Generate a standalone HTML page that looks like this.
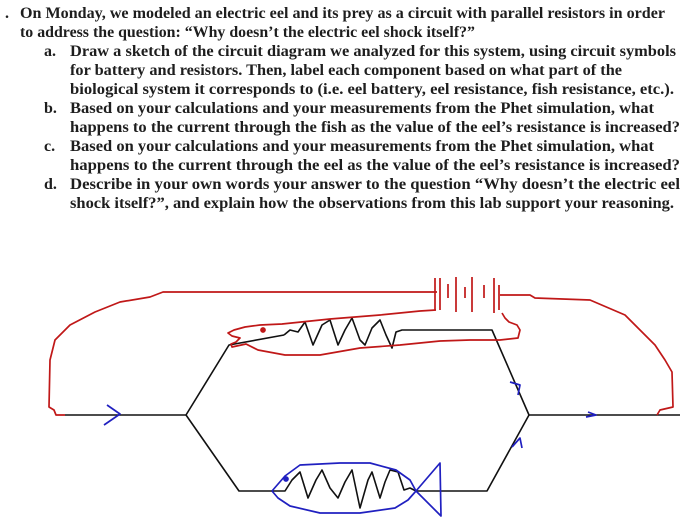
<!DOCTYPE html>
<html><head><meta charset="utf-8"><style>
html,body{margin:0;padding:0;background:#fff;}
svg{display:block;}
text{font-family:"Liberation Serif",serif;font-size:16px;font-weight:bold;fill:#1e1e1e;}
</style></head><body>
<svg width="683" height="523" viewBox="0 0 683 523" xmlns="http://www.w3.org/2000/svg">
<text x="5" y="18">.</text>
<text x="20" y="18" textLength="645" lengthAdjust="spacingAndGlyphs">On Monday, we modeled an electric eel and its prey as a circuit with parallel resistors in order</text>
<text x="20" y="37" textLength="455" lengthAdjust="spacingAndGlyphs">to address the question: “Why doesn’t the electric eel shock itself?”</text>
<text x="44" y="56">a.</text>
<text x="70" y="56" textLength="606" lengthAdjust="spacingAndGlyphs">Draw a sketch of the circuit diagram we analyzed for this system, using circuit symbols</text>
<text x="70" y="75" textLength="552" lengthAdjust="spacingAndGlyphs">for battery and resistors. Then, label each component based on what part of the</text>
<text x="70" y="94" textLength="604" lengthAdjust="spacingAndGlyphs">biological system it corresponds to (i.e. eel battery, eel resistance, fish resistance, etc.).</text>
<text x="44" y="113">b.</text>
<text x="70" y="113" textLength="584" lengthAdjust="spacingAndGlyphs">Based on your calculations and your measurements from the Phet simulation, what</text>
<text x="70" y="132" textLength="610" lengthAdjust="spacingAndGlyphs">happens to the current through the fish as the value of the eel’s resistance is increased?</text>
<text x="44" y="151">c.</text>
<text x="70" y="151" textLength="584" lengthAdjust="spacingAndGlyphs">Based on your calculations and your measurements from the Phet simulation, what</text>
<text x="70" y="170" textLength="610" lengthAdjust="spacingAndGlyphs">happens to the current through the eel as the value of the eel’s resistance is increased?</text>
<text x="44" y="189">d.</text>
<text x="70" y="189" textLength="610" lengthAdjust="spacingAndGlyphs">Describe in your own words your answer to the question “Why doesn’t the electric eel</text>
<text x="70" y="208" textLength="604" lengthAdjust="spacingAndGlyphs">shock itself?”, and explain how the observations from this lab support your reasoning.</text>

<g fill="none" stroke="#111" stroke-width="1.6" stroke-linejoin="round">
<polyline points="65,415 186,415 229,345 284,335"/>
<polyline points="284,335 290,330 298,332 305,322 313,345 322,325 330,320 338,345 345,330 352,318 360,340 365,345 372,328 380,320 386,335 392,348 396,332 402,330 406,330 492,330 529,415 680,415"/>
<polyline points="186,415 239,491 272,491 285,491 292,480 300,472 308,498 316,480 322,470 330,488 338,498 345,482 352,470 360,508 368,480 372,472 380,498 385,482 390,470 398,472 404,490 410,488 416,491 487,491 529,415"/>
</g>

<g fill="none" stroke="#c01818" stroke-width="1.7" stroke-linejoin="round">
<polyline points="437,292 163,292 150,297 120,302 95,312 70,325 55,340 50,360 49,407 54,410 56,415 65,415"/>
<polyline points="500,295 530,295 535,298 590,300 625,315 640,330 655,345 665,360 672,372 673,407 660,410 657,415"/>
<line x1="435" y1="278" x2="435" y2="310"/><line x1="440" y1="278" x2="440" y2="310"/>
<line x1="448" y1="284" x2="448" y2="298"/><line x1="456" y1="277" x2="456" y2="312"/>
<line x1="465" y1="287" x2="465" y2="298"/><line x1="472" y1="277" x2="472" y2="312"/>
<line x1="484" y1="285" x2="484" y2="298"/><line x1="494" y1="278" x2="494" y2="313"/>
<line x1="499" y1="285" x2="499" y2="310"/>
<polyline points="436,310 420,311 380,315 330,319 282,324 260,325 245,327 234,330 228,333 232,336 240,338 236,342 231,344 232,347 246,344 258,350 285,355 320,355 360,348 400,345 440,341 470,340 500,340 518,338 520,330 517,325 509,322 505,318 502,313"/>
<circle cx="263" cy="330" r="2" fill="#c01818"/>
</g>

<g fill="none" stroke="#2020c0" stroke-width="1.7" stroke-linejoin="round">
<polyline points="272,491 285,476 300,465 340,463 370,463 396,470 410,480 416,491 408,500 395,508 360,513 320,513 290,506 278,498 272,491"/>
<polyline points="416,491 440,463 441,516 416,491"/>
<circle cx="286" cy="479" r="2" fill="#2020c0"/>
<path d="M107,405 L120,414 L104,425"/>
<path d="M510,382 L520,385 L518,395"/>
<path d="M512,447 L520,438 L522,448"/>
<path d="M586,417 L596,415 L588,412"/>
</g>
</svg>
</body></html>
